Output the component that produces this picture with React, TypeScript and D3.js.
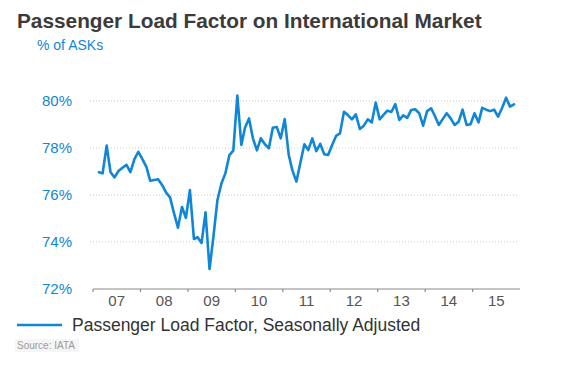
import React from "react";
import * as d3 from "d3";

const START_YEAR = 2007;
const START_MONTH = 1; // Feb 2007 (0-based month index)
const loadFactor: number[] = [
  76.97, 76.92, 78.1, 76.97, 76.75, 77.02, 77.16, 77.28, 76.97, 77.53, 77.84, 77.53,
  77.2, 76.61, 76.64, 76.67, 76.43, 76.11, 75.9, 75.22, 74.61, 75.49, 75.03, 76.21,
  74.13, 74.2, 73.96, 75.26, 72.85, 74.23, 75.79, 76.5, 76.92, 77.7, 77.89, 80.23,
  78.13, 78.86, 79.26, 78.41, 77.9, 78.42, 78.16, 77.99, 78.86, 78.89, 78.41, 79.23,
  77.7, 77.05, 76.57, 77.36, 78.16, 77.91, 78.41, 77.87, 78.18, 77.73, 77.7, 78.13,
  78.52, 78.62, 79.54, 79.4, 79.22, 79.43, 78.81, 78.95, 79.22, 79.09, 79.93, 79.22,
  79.42, 79.59, 79.53, 79.87, 79.19, 79.39, 79.28, 79.62, 79.65, 79.48, 78.95, 79.57,
  79.69, 79.37, 78.98, 79.23, 79.48, 79.26, 78.98, 79.12, 79.63, 78.98, 79.01, 79.48,
  79.09, 79.71, 79.63, 79.57, 79.63, 79.33, 79.7, 80.14, 79.76, 79.86,
];
const yTicks: number[] = [72, 74, 76, 78, 80];
const yearLabels: string[] = ["07", "08", "09", "10", "11", "12", "13", "14", "15"];

const TITLE = "Passenger Load Factor on International Market";
const SUBTITLE = "% of ASKs";
const LEGEND = "Passenger Load Factor, Seasonally Adjusted";
const SOURCE = "Source: IATA";

const BLUE = "#0f86d6";
const FONT = "'Liberation Sans', Arial, Helvetica, sans-serif";

export default function App() {
  const W = 571;
  const H = 375;
  const x0 = 93;
  const x1 = 520;
  const yTop = 101;
  const yBot = 289;

  const x = d3
    .scaleTime()
    .domain([new Date(START_YEAR, 0, 1), new Date(START_YEAR + yearLabels.length, 0, 1)])
    .range([x0, x1]);
  const y = d3.scaleLinear().domain([72, 80]).range([yBot, yTop]);

  const pts = loadFactor.map((v, i) => ({
    date: new Date(START_YEAR, START_MONTH + i, 16),
    v,
  }));
  const line = d3
    .line<{ date: Date; v: number }>()
    .x((d) => x(d.date))
    .y((d) => y(d.v));

  const yearStarts = d3.range(yearLabels.length + 1).map((k) => new Date(START_YEAR + k, 0, 1));

  return (
    <svg
      width={W}
      height={H}
      style={{ position: "absolute", left: 0, top: 0, background: "#fff" }}
      fontFamily={FONT}
    >
      <text x={17} y={28} fontSize={20.8} fontWeight="bold" fill="#3b3b3b">
        {TITLE}
      </text>
      <text x={37} y={50} fontSize={14} fill={BLUE}>
        {SUBTITLE}
      </text>

      {yTicks.map((t) => (
        <g key={t}>
          {t > 72 && (
            <line
              x1={90}
              x2={518}
              y1={y(t)}
              y2={y(t)}
              stroke="#c8c8c8"
              strokeWidth={1}
              strokeDasharray="1,2"
            />
          )}
          <text x={72} y={y(t) + 5} fontSize={15} fill={BLUE} textAnchor="end">
            {t}%
          </text>
        </g>
      ))}

      <line x1={x0} x2={x1} y1={yBot} y2={yBot} stroke="#8a8a8a" strokeWidth={1.2} />
      {yearStarts.slice(0, yearLabels.length).map((d, k) => (
        <line key={k} x1={x(d)} x2={x(d)} y1={yBot} y2={yBot + 3} stroke="#8a8a8a" strokeWidth={1.2} />
      ))}
      {yearLabels.map((lab, k) => {
        const mid = (x(yearStarts[k]) + x(yearStarts[k + 1])) / 2;
        return (
          <text key={lab} x={mid} y={306} fontSize={15} fill="#555" textAnchor="middle">
            {lab}
          </text>
        );
      })}

      <path
        d={line(pts) ?? ""}
        fill="none"
        stroke={BLUE}
        strokeWidth={2.6}
        strokeLinejoin="round"
        strokeLinecap="round"
      />

      <line x1={17} x2={62} y1={325} y2={325} stroke={BLUE} strokeWidth={2.6} />
      <text x={72} y={331} fontSize={17.5} fill="#333">
        {LEGEND}
      </text>

      <rect x={15} y={339} width={64} height={13} fill="#f5f5f5" />
      <text x={17} y={349} fontSize={10} fill="#9a9a9a">
        {SOURCE}
      </text>
    </svg>
  );
}
